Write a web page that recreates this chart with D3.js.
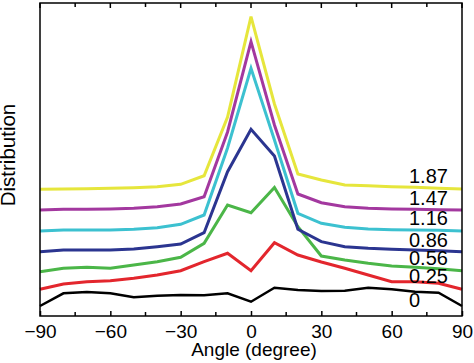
<!DOCTYPE html>
<html>
<head>
<meta charset="utf-8">
<script src="https://cdn.jsdelivr.net/npm/d3@7"></script>
<style>
  body { margin: 0; background: #fff; }
  text { font-family: "Liberation Sans", Arial, sans-serif; fill: #000; }
</style>
</head>
<body>
<div id="chart"></div>
<script>
// Angles (degree)
const angles = [-90, -80, -70, -60, -50, -40, -30, -20, -10, 0, 10, 20, 30, 40, 50, 60, 70, 80, 90];

// Curve labels, bottom to top
const labels = ["0", "0.25", "0.56", "0.86", "1.16", "1.47", "1.87"];

// Distribution curves (arbitrary units, offset stacked)
const s0 = [10, 22.7, 24, 22.7, 18.7, 20.3, 21, 20.7, 22.7, 14.3, 28.3, 26, 25, 25.3, 28.3, 26.7, 24.3, 23.3, 10];
const s025 = [26.7, 32, 34.3, 35.3, 37.7, 41, 45.3, 54.3, 62.7, 45.3, 73.3, 61, 54, 47.7, 41, 34.3, 34.3, 32.7, 26.7];
const s056 = [44.3, 47.7, 48.7, 47.7, 51, 54.3, 58.7, 72.7, 111, 103.3, 128.5, 89.3, 60, 56, 52.7, 50, 48.7, 47.3, 45.3];
const s086 = [64.3, 66, 66, 66, 67, 69.3, 72, 83.3, 144.3, 186.7, 160, 86.7, 74.3, 69.3, 67.7, 66.7, 66, 65.3, 64.3];
const s116 = [85, 86, 86, 86, 86.7, 88.3, 91.7, 101, 168, 247.7, 176, 102.7, 92.7, 88.7, 87, 86.3, 86, 85.7, 85];
const s147 = [106, 106.7, 106.7, 107, 107.7, 109.3, 112, 119.3, 184, 274.3, 191, 122, 113.3, 109.3, 107.7, 107, 106.7, 106.3, 106];
const s187 = [126.7, 127, 127.3, 127.7, 128.3, 129.3, 131.7, 140.3, 199, 299.3, 212, 142, 136, 131, 130.3, 129.3, 128.7, 127.7, 127];

// Where each label sits (same units as the curves)
const labelLevels = [9.3, 32.7, 51, 68.7, 91, 111, 132.7];

// X tick values
const xTicks = [-90, -60, -30, 0, 30, 60, 90];
const xMinorTicks = [-75, -45, -15, 15, 45, 75];

const colors = ["#000000", "#e3262d", "#4bb648", "#2b3590", "#3cc1d0", "#a3389f", "#e6e63c"];

const margin = { top: 3, left: 40, bottom: 47, right: 12 },
      width = 474,
      height = 363,
      innerWidth = width - margin.left - margin.right,
      innerHeight = height - margin.top - margin.bottom;

const series = [s0, s025, s056, s086, s116, s147, s187];

const svg = d3.select("#chart").append("svg")
    .attr("width", width)
    .attr("height", height);

const g = svg.append("g")
    .attr("transform", "translate(" + margin.left + "," + margin.top + ")");

// Scales
const xScale = d3.scaleLinear()
    .domain([-90, 90])
    .range([0, innerWidth]);

const yScale = d3.scaleLinear()
    .domain([0, 313])
    .range([innerHeight, 0]);

// Lines
const line = d3.line()
    .x((d, i) => xScale(angles[i]))
    .y(d => yScale(d));

g.selectAll(".curve")
    .data(series)
  .enter().append("path")
    .attr("class", "curve")
    .attr("d", line)
    .style("fill", "none")
    .style("stroke", (d, i) => colors[i])
    .style("stroke-width", (d, i) => i === 0 ? 2.5 : 3)
    .style("stroke-linejoin", "miter");

// Curve labels
g.selectAll(".label")
    .data(labels)
  .enter().append("text")
    .attr("class", "label")
    .attr("x", 369)
    .attr("y", (d, i) => yScale(labelLevels[i]))
    .style("font-size", "20px")
    .text(d => d);

// Frame
g.append("rect")
    .attr("width", innerWidth)
    .attr("height", innerHeight)
    .style("fill", "none")
    .style("stroke", "#000")
    .style("stroke-width", 1.5);

// Bottom axis with inward ticks
const xAxis = d3.axisBottom(xScale)
    .tickValues(xTicks)
    .tickSizeInner(-5)
    .tickSizeOuter(0)
    .tickPadding(9)
    .tickFormat(d3.format("d"));

const gX = g.append("g")
    .attr("transform", "translate(0," + innerHeight + ")")
    .call(xAxis);

gX.select(".domain").remove();
gX.selectAll("line").style("stroke-width", 1.5);
gX.selectAll("text")
    .style("font-size", "19px")
    .style("font-family", "Liberation Sans, Arial, sans-serif");

// Minor ticks bottom and all ticks top
const allTicks = xTicks.concat(xMinorTicks);

g.selectAll(".minorBottom")
    .data(xMinorTicks)
  .enter().append("line")
    .attr("x1", d => xScale(d))
    .attr("x2", d => xScale(d))
    .attr("y1", innerHeight)
    .attr("y2", innerHeight - 4)
    .style("stroke", "#000")
    .style("stroke-width", 1.5);

g.selectAll(".topTick")
    .data(allTicks)
  .enter().append("line")
    .attr("x1", d => xScale(d))
    .attr("x2", d => xScale(d))
    .attr("y1", 0)
    .attr("y2", d => xTicks.includes(d) ? 5 : 4)
    .style("stroke", "#000")
    .style("stroke-width", 1.5);

// Axis titles
svg.append("text")
    .attr("x", 254)
    .attr("y", 356)
    .attr("text-anchor", "middle")
    .style("font-size", "19px")
    .text("Angle (degree)");

svg.append("text")
    .attr("transform", "translate(15,155) rotate(-90)")
    .attr("text-anchor", "middle")
    .style("font-size", "20.5px")
    .text("Distribution");
</script>
</body>
</html>
